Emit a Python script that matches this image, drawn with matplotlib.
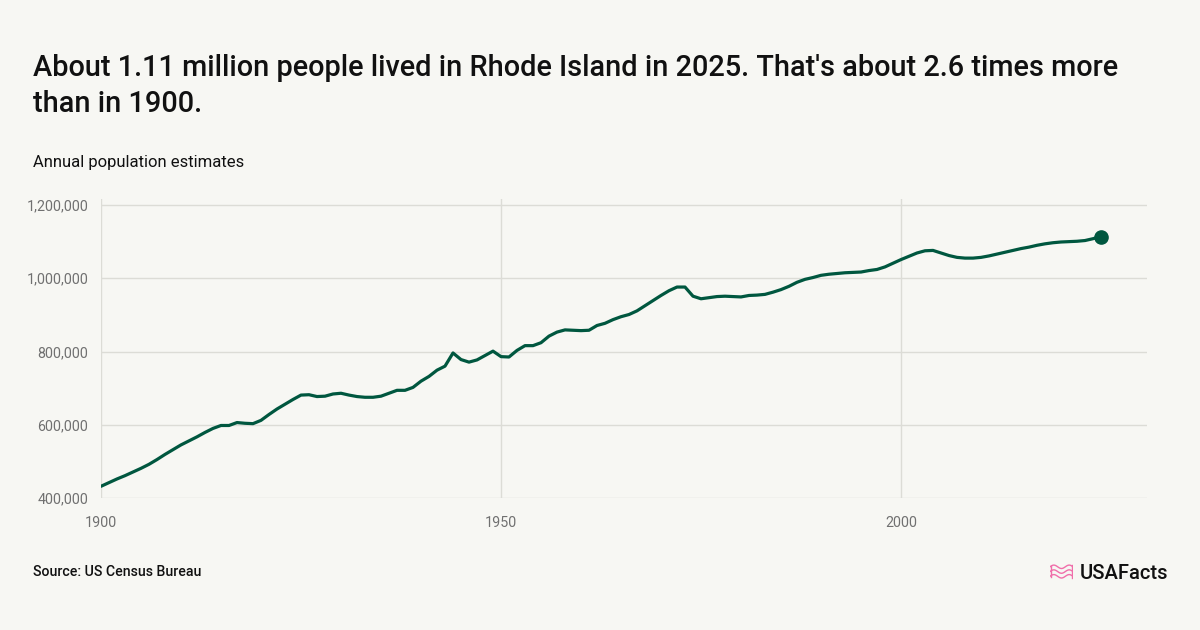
import matplotlib
matplotlib.use("Agg")
import matplotlib.pyplot as plt
import numpy as np

# ---- data ----
years = list(range(1900, 2026))
population = [
    432000, 442000, 452000, 461000, 471000, 481000, 492000, 505000, 519000, 532000,  # 1900s
    545000, 556000, 567000, 579000, 590000, 598000, 598000, 606000, 604000, 603000,  # 1910s
    612000, 628000, 643000, 656000, 669000, 681000, 682000, 677000, 678000, 684000,  # 1920s
    686000, 681000, 677000, 675000, 675000, 678000, 686000, 694000, 694000, 702000,  # 1930s
    719000, 732000, 749000, 760000, 796000, 778000, 771000, 777000, 789000, 801000,  # 1940s
    786000, 785000, 803000, 816000, 816000, 824000, 842000, 853000, 859000, 858000,  # 1950s
    857000, 858000, 871000, 877000, 887000, 895000, 901000, 911000, 925000, 939000,  # 1960s
    953000, 966000, 976000, 976000, 951000, 944000, 947000, 950000, 951000, 950000,  # 1970s
    949000, 953000, 954000, 956000, 962000, 969000, 978000, 989000, 997000, 1002000,  # 1980s
    1008000, 1011000, 1013000, 1015000, 1016000, 1017000, 1021000, 1024000, 1031000, 1041000,  # 1990s
    1051000, 1060000, 1069000, 1075000, 1076000, 1069000, 1062000, 1057000, 1055000, 1055000,  # 2000s
    1057000, 1061000, 1066000, 1071000, 1076000, 1081000, 1085000, 1090000, 1094000, 1097000,  # 2010s
    1099000, 1100000, 1101000, 1103000, 1108000, 1114000,  # 2020s
]
x_ticks = [1900, 1950, 2000]
x_tick_labels = ["1900", "1950", "2000"]
y_ticks = [400000, 600000, 800000, 1000000, 1200000]
y_tick_labels = ["400,000", "600,000", "800,000", "1,000,000", "1,200,000"]

title_line1 = "About 1.11 million people lived in Rhode Island in 2025. That's about 2.6 times more"
title_line2 = "than in 1900."
subtitle = "Annual population estimates"
source = "Source: US Census Bureau"

# ---- style ----
BG = "#F7F7F3"
LINE = "#00573F"
GRID = "#DCDCD6"
TICK = "#707070"
W, H = 1200, 630

plt.rcParams['font.family'] = ['Roboto', 'DejaVu Sans']

fig = plt.figure(figsize=(12, 6.3), dpi=100, facecolor=BG)

ax = fig.add_axes([101 / W, (H - 498) / H, (1147 - 101) / W, (498 - 199) / H])
ax.set_facecolor(BG)
ax.plot(years, population, color=LINE, lw=2.3, solid_joinstyle='round', solid_capstyle='round', zorder=3)
ax.plot([years[-1]], [population[-1]], 'o', color=LINE, ms=9.5, zorder=4)

ax.set_xlim(1900, 2030.75)
ax.set_ylim(400000, 1216400)
ax.set_xticks(x_ticks)
ax.set_xticklabels(x_tick_labels)
ax.set_yticks(y_ticks)
ax.set_yticklabels(y_tick_labels)
ax.grid(True, color=GRID, lw=1.0, zorder=0)
for s in ax.spines.values():
    s.set_visible(False)
ax.tick_params(length=0, labelsize=10.3, labelcolor=TICK)
ax.tick_params(axis='y', pad=9)
ax.tick_params(axis='x', pad=13)

# ---- texts ----
fig.text(33 / W, 1 - 76 / H, title_line1, fontsize=20.8, fontweight='medium', color='#111111', va='baseline', ha='left')
fig.text(33 / W, 1 - 111.5 / H, title_line2, fontsize=20.8, fontweight='medium', color='#111111', va='baseline', ha='left')
fig.text(33 / W, 1 - 167 / H, subtitle, fontsize=12, color='#111111', va='baseline', ha='left')
fig.text(33 / W, 1 - 576 / H, source, fontsize=10.2, fontweight='medium', color='#111111', va='baseline', ha='left')
fig.text(1168 / W, 1 - 579 / H, "USAFacts", fontsize=14.5, fontweight='medium', color='#111111', va='baseline', ha='right')

# logo icon (decorative wavy stripes)
lax = fig.add_axes([1050 / W, 1 - 582 / H, 23 / W, 19 / H])
lax.set_xlim(0, 1)
lax.set_ylim(0, 1)
lax.axis('off')
t = np.linspace(0, 1, 40)
for off in [0.8, 0.55, 0.3]:
    lax.plot(t, off + 0.09 * np.sin(t * 2 * np.pi * 1.5), color='#F06EAA', lw=1.0)
lax.plot([0.05, 0.05], [0.25, 0.85], color='#F06EAA', lw=1.0)
lax.plot([0.95, 0.95], [0.2, 0.9], color='#F06EAA', lw=1.0)

fig.savefig("out.png", dpi=100, facecolor=BG)
